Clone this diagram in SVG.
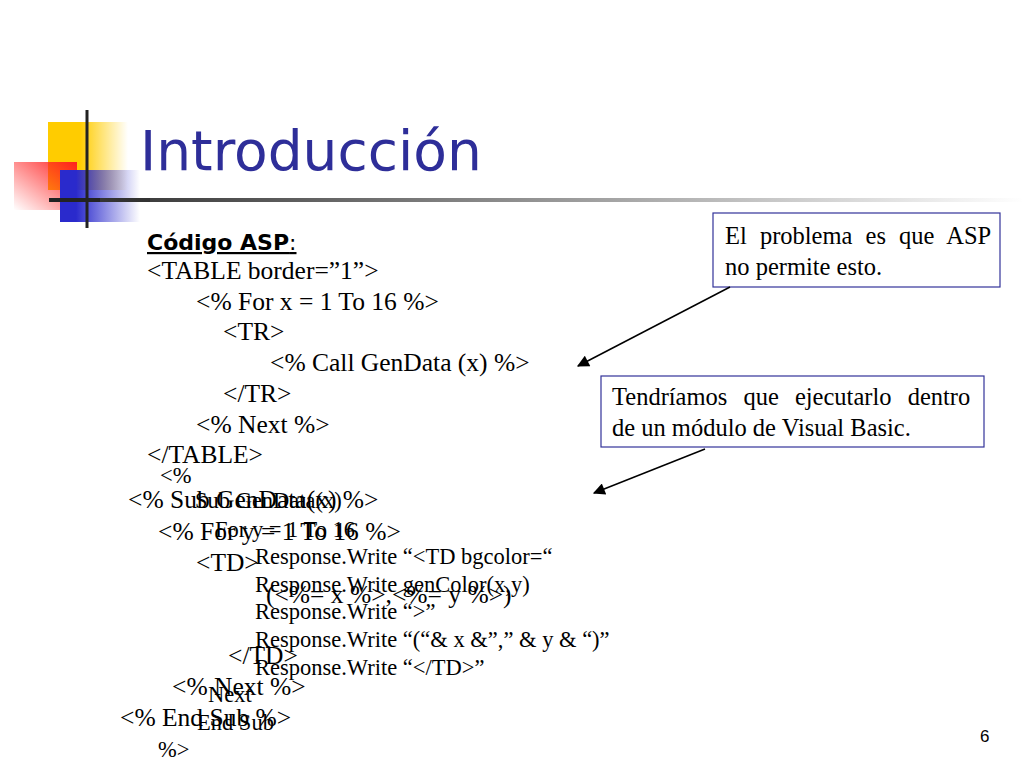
<svg xmlns="http://www.w3.org/2000/svg" width="1024" height="768" viewBox="0 0 1024 768">
<defs>
<linearGradient id="gy" x1="0" x2="1"><stop offset="0.4" stop-color="#FFCC00"/><stop offset="1" stop-color="#FFCC00" stop-opacity="0"/></linearGradient>
<linearGradient id="gr" x1="1" y1="0" x2="0" y2="1"><stop offset="0" stop-color="#FF2020"/><stop offset="1" stop-color="#FF2020" stop-opacity="0"/></linearGradient>
<linearGradient id="gb" x1="0" x2="1"><stop offset="0.2" stop-color="#2A2ACC"/><stop offset="1" stop-color="#2A2ACC" stop-opacity="0"/></linearGradient>
<linearGradient id="gl" x1="0" x2="1"><stop offset="0" stop-color="#333"/><stop offset="1" stop-color="#333" stop-opacity="0"/></linearGradient>
<marker id="ah" viewBox="0 0 10 10" refX="9" refY="5" markerWidth="10" markerHeight="8" orient="auto"><path d="M0,0 L10,5 L0,10 z" fill="#000"/></marker>
<style>
.a{font-family:"Liberation Serif",serif;font-size:25.5px;fill:#000}
.b{font-family:"Liberation Serif",serif;font-size:22.5px;fill:#000}
.t{font-family:"Liberation Serif",serif;font-size:24.5px;fill:#000}
.box{fill:#fff;stroke:#333399;stroke-width:1.2}
</style>
</defs>
<rect width="1024" height="768" fill="#fff"/>
<g id="logo">
<rect x="48" y="122" width="80" height="68" fill="url(#gy)"/>
<rect x="14" y="162" width="63" height="48" fill="url(#gr)"/>
<rect x="60" y="170" width="80" height="52" fill="url(#gb)"/>
<line x1="87" y1="110" x2="87" y2="228" stroke="#222" stroke-width="3"/>
<line x1="49" y1="200" x2="150" y2="200" stroke="#222" stroke-width="4"/>
<rect x="100" y="198" width="924" height="4" fill="url(#gl)"/>
</g>
<text x="140" y="170" font-family="'DejaVu Sans',sans-serif" font-size="55" fill="#2E2E99">Introducción</text>
<g id="code">
<text x="147" y="250" font-family="'DejaVu Sans',sans-serif" font-size="22" font-weight="bold" text-decoration="underline">Código ASP<tspan font-weight="normal" text-decoration="none">:</tspan></text>
<text class="a" x="147" y="279">&lt;TABLE border=”1”&gt;</text>
<text class="a" x="196" y="310">&lt;% For x = 1 To 16 %&gt;</text>
<text class="a" x="223" y="340">&lt;TR&gt;</text>
<text class="a" x="270" y="371">&lt;% Call GenData (x) %&gt;</text>
<text class="a" x="223" y="402">&lt;/TR&gt;</text>
<text class="a" x="196" y="433">&lt;% Next %&gt;</text>
<text class="a" x="147" y="463">&lt;/TABLE&gt;</text>
<text class="a" x="128" y="508">&lt;% Sub GenData(x) %&gt;</text>
<text class="a" x="158" y="540">&lt;% For y = 1 To 16 %&gt;</text>
<text class="a" x="196" y="571">&lt;TD&gt;</text>
<text class="a" x="266" y="603">(&lt;%= x %&gt;,&lt;%= y %&gt;)</text>
<text class="a" x="228" y="664">&lt;/TD&gt;</text>
<text class="a" x="172" y="695">&lt;% Next %&gt;</text>
<text class="a" x="120" y="726">&lt;% End Sub %&gt;</text>
<text class="b" x="160" y="483">&lt;%</text>
<text class="b" x="195" y="508">Sub GenData(x)</text>
<text class="b" x="215" y="537">For y = 1 To 16</text>
<text class="b" x="255" y="564">Response.Write “&lt;TD bgcolor=“</text>
<text class="b" x="255" y="592">Response.Write genColor(x,y)</text>
<text class="b" x="255" y="619">Response.Write “&gt;”</text>
<text class="b" x="255" y="647">Response.Write “(“&amp; x &amp;”,” &amp; y &amp; “)”</text>
<text class="b" x="255" y="675">Response.Write “&lt;/TD&gt;”</text>
<text class="b" x="208" y="702">Next</text>
<text class="b" x="197" y="730">End Sub</text>
<text class="b" x="158" y="757">%&gt;</text>
</g>
<g id="box1">
<rect class="box" x="713" y="213" width="287" height="74"/>
<text class="t" x="725" y="244" word-spacing="7">El problema es que ASP</text>
<text class="t" x="725" y="275">no permite esto.</text>
</g>
<g id="box2">
<rect class="box" x="601" y="376" width="383" height="71"/>
<text class="t" x="612" y="405" word-spacing="10">Tendríamos que ejecutarlo dentro</text>
<text class="t" x="612" y="436">de un módulo de Visual Basic.</text>
</g>
<g id="connectors" stroke="#000" stroke-width="1.5">
<line x1="730" y1="287" x2="578" y2="366" marker-end="url(#ah)"/>
<line x1="705" y1="449" x2="594" y2="493" marker-end="url(#ah)"/>
</g>
<text x="980" y="742" font-family="'Liberation Sans',sans-serif" font-size="17">6</text>
</svg>
